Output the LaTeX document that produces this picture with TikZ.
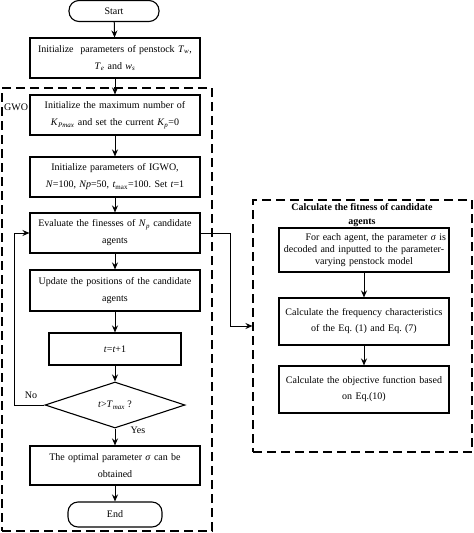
\documentclass[tikz,border=0pt]{standalone}
\usepackage{fontspec}
\setmainfont{Liberation Serif}
\usetikzlibrary{arrows.meta,shapes.geometric}
\frenchspacing

\tikzset{
  box/.style={draw,line width=1.1pt,minimum width=170pt,minimum height=40pt,text width=164pt,
    align=center,inner sep=2pt,font=\fontsize{10}{17}\selectfont},
  term/.style={box,rounded corners=10pt},
  group/.style={draw,line width=1.1pt,dash pattern=on 9pt off 5pt,inner sep=0pt},
  flow/.style={-{Stealth[length=7pt,width=6pt]},line width=1pt},
  lbl/.style={font=\fontsize{10}{12}\selectfont,inner sep=0pt}
}

\begin{document}
\begin{tikzpicture}[x=1pt,y=-1pt]
\useasboundingbox (0,0) rectangle (474,533);

% Dashed groups
\node[group,minimum width=210pt,minimum height=443pt] (gwo) at (107,309.5) {};
\node[group,minimum width=219pt,minimum height=252pt] (fitbox) at (362.5,326) {};
\node[lbl,anchor=west] (gwolabel) at (4,107) {GWO};

% Main flow
\node[term,minimum width=90pt,minimum height=21pt,text width=84pt] (start) at (114,11) {Start};
\node[box] (initpen) at (115,58) {Initialize\ \ parameters of penstock \textit{T}\textsubscript{\textit{w}},\\ \textit{T}\textsubscript{\textit{e}} and \textit{w}\textsubscript{\textit{s}}};
\node[box] (initmax) at (115,115) {Initialize the maximum number of\\ \textit{K}\textsubscript{\textit{Pmax}} and set the current \textit{K}\textsubscript{\textit{p}}=0};
\node[box] (initigwo) at (115,177) {Initialize parameters of IGWO,\\ \textit{N}=100, \textit{Np}=50, \textit{t}\textsubscript{max}=100. Set \textit{t}=1};
\node[box] (eval) at (115,233) {Evaluate the finesses of \textit{N}\textsubscript{\textit{p}} candidate\\ agents};
\node[box,minimum height=41pt] (update) at (115,290.5) {Update the positions of the candidate\\ agents};
\node[box,minimum width=132pt,text width=126pt,minimum height=32pt] (incr) at (115,349) {\textit{t}=\textit{t}+1};
\node[draw,diamond,aspect=3,line width=1.1pt,minimum width=140pt,minimum height=46pt,inner sep=0pt,
  font=\fontsize{10}{12}\selectfont] (check) at (115,405) {\textit{t}>\textit{T}\textsubscript{\textit{max}} ?};
\node[box,minimum height=39pt] (optimal) at (115,465.5) {The optimal parameter \textit{σ} can be\\ obtained};
\node[term,minimum width=94pt,minimum height=25pt,text width=88pt] (end) at (115,514.5) {End};

% Fitness evaluation
\node[lbl,font=\bfseries\fontsize{10}{14}\selectfont,align=center] (fittitle) at (362,215) {Calculate the fitness of candidate\\ agents};
\node[box,minimum height=44pt,font=\fontsize{10}{12}\selectfont] (decode) at (364,250)
  {\hfill For each agent, the parameter \textit{σ} is\\ decoded and inputted to the parameter-\\ varying penstock model};
\node[box,minimum height=47pt,font=\fontsize{10}{16}\selectfont] (freq) at (364,321.5) {Calculate the frequency characteristics\\ of the Eq. (1) and Eq. (7)};
\node[box,minimum height=47pt,font=\fontsize{10}{16}\selectfont] (objective) at (364,389.5) {Calculate the objective function based\\ on Eq.(10)};

% Connectors
\draw[flow] (start) -- (initpen);
\draw[flow] (initpen) -- (initmax);
\draw[flow] (initmax) -- (initigwo);
\draw[flow] (initigwo) -- (eval);
\draw[flow] (eval) -- (update);
\draw[flow] (update) -- (incr);
\draw[flow] (incr) -- (check);
\draw[flow] (check) -- (optimal);
\draw[flow] (optimal) -- (end);
\draw[flow] (check.west) -- ++(-30,0) |- (eval.west);
\draw[flow] (eval.east) -- ++(30,0) |- (fitbox.west);
\draw[flow] (decode) -- (freq);
\draw[flow] (freq) -- (objective);

% Branch labels
\node[lbl] (no) at (31,395) {No};
\node[lbl] (yes) at (138,430) {Yes};

\end{tikzpicture}
\end{document}
